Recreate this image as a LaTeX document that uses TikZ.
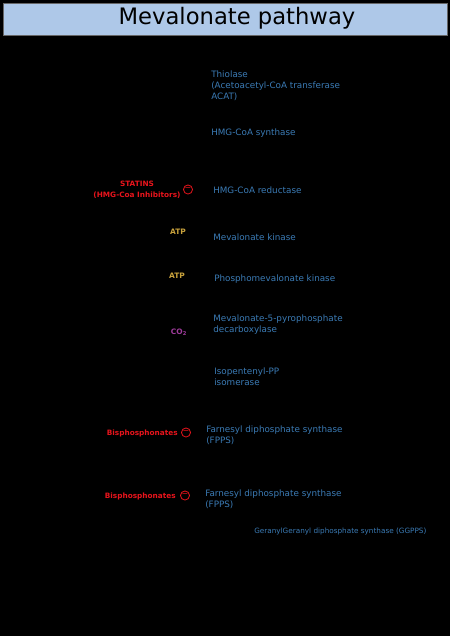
\documentclass[tikz,border=0pt]{standalone}
\usepackage{fontspec}
\setmainfont{DejaVu Sans}
\usepackage{xcolor}
\definecolor{titleblue}{HTML}{AEC8E8}
\definecolor{enzblue}{HTML}{3B7BB5}
\definecolor{inhred}{HTML}{E8141C}
\definecolor{atpgold}{HTML}{C9A23C}
\definecolor{copurple}{HTML}{A03C9C}
\begin{document}
\begin{tikzpicture}[x=0.75pt,y=-0.75pt,
  enzyme/.style={text=enzblue,font=\fontsize{6.6}{8.25}\selectfont,anchor=west,align=left,inner sep=0pt},
  inhibitor/.style={text=inhred,font=\bfseries\fontsize{5.5}{8.25}\selectfont,inner sep=0pt},
  minus/.style={circle,draw=inhred,line width=0.6pt,text=inhred,inner sep=0pt,minimum size=6.8pt,font=\fontsize{6}{6}\selectfont},
  cofactor/.style={font=\bfseries\fontsize{5.6}{7}\selectfont,inner sep=0pt}]
% background and title
\fill[black] (0,0) rectangle (450,636);
\node[draw=black!60,fill=titleblue,minimum width=333pt,minimum height=24pt,inner sep=0pt] (titlebar) at (225,19) {};
\node[font=\fontsize{17}{20}\selectfont] (title) at (237,18.5) {Mevalonate pathway};
% enzymes
\node[enzyme] (thiolase) at (211,86) {Thiolase\\(Acetoacetyl-CoA transferase\\ACAT)};
\node[enzyme] (hmgsynth) at (211,133) {HMG-CoA synthase};
\node[enzyme] (hmgred) at (213,190) {HMG-CoA reductase};
\node[enzyme] (mvk) at (213,237) {Mevalonate kinase};
\node[enzyme] (pmvk) at (214,279) {Phosphomevalonate kinase};
\node[enzyme] (mvd) at (213,324.5) {Mevalonate-5-pyrophosphate\\decarboxylase};
\node[enzyme] (idi) at (214,376.5) {Isopentenyl-PP\\isomerase};
\node[enzyme] (fpps1) at (206,435.5) {Farnesyl diphosphate synthase\\(FPPS)};
\node[enzyme] (fpps2) at (205,499.5) {Farnesyl diphosphate synthase\\(FPPS)};
\node[enzyme,font=\fontsize{5.45}{6}\selectfont] (ggpps) at (254,531) {GeranylGeranyl diphosphate synthase (GGPPS)};
% inhibitors
\node[inhibitor,align=center] (statins) at (137,190) {STATINS\\(HMG-Coa Inhibitors)};
\node[minus] (stmin) at (188,189.5) {−};
\node[inhibitor,anchor=east] (bis1) at (178,433) {Bisphosphonates};
\node[minus] (bis1min) at (186,432.5) {−};
\node[inhibitor,anchor=east] (bis2) at (176,496) {Bisphosphonates};
\node[minus] (bis2min) at (185,495.5) {−};
% cofactors
\node[cofactor,text=atpgold] (atp1) at (178,232) {ATP};
\node[cofactor,text=atpgold] (atp2) at (177,276) {ATP};
\node[cofactor,text=copurple] (co2) at (179,332.5) {CO\textsubscript{2}};
\end{tikzpicture}
\end{document}
